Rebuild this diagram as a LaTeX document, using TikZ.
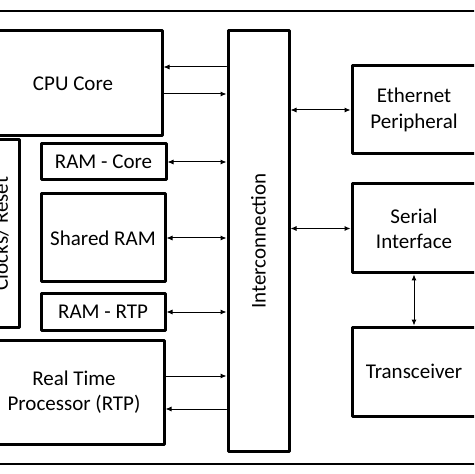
\documentclass[tikz,border=0pt]{standalone}
\usepackage{fontspec}
\setmainfont{Carlito}
\usetikzlibrary{arrows.meta}

\begin{document}
\begin{tikzpicture}[line cap=round,line join=round,x=0.5pt,y=-0.5pt,
  blk/.style={draw,line width=1.5pt,inner sep=0pt,align=center,
    font=\fontsize{10.5}{12.6}\selectfont},
  arr/.style={line width=0.5pt,>={Latex[length=3pt,width=2.6pt]}}]
\useasboundingbox (0,0) rectangle (474,474);
\clip (0,0) rectangle (474,474);
% outer frame
\draw [line width=1pt] (-20,11) rectangle (494,464);
% left side blocks
\node[blk,minimum width=89pt,minimum height=52.5pt] (cpu) at (73,83.5) {CPU Core};
\node[blk,minimum width=18pt,minimum height=93.5pt] (clk) at (1,233.5) {};
\node[font=\fontsize{10.5}{12.6}\selectfont,rotate=90] at (clk) {Clocks/ Reset};
\node[blk,minimum width=62.5pt,minimum height=18pt] (ramcore) at (103.5,162) {RAM - Core};
\node[blk,minimum width=62pt,minimum height=44pt] (shram) at (103,238) {Shared RAM};
\node[blk,minimum width=62pt,minimum height=18pt] (ramrtp) at (103,312) {RAM - RTP};
\node[blk,minimum width=90pt,minimum height=52pt] (rtp) at (74,392) {Real Time\\Processor (RTP)};
% interconnection
\node[blk,minimum width=30.5pt,minimum height=210pt] (ic) at (258.5,241) {};
\node[font=\fontsize{10.5}{12.6}\selectfont,rotate=90] at (ic) {Interconnection};
% right side blocks
\node[blk,minimum width=62pt,minimum height=44pt] (eth) at (414,110) {Ethernet\\Peripheral};
\node[blk,minimum width=62pt,minimum height=44.5pt] (serial) at (414,228.5) {Serial\\Interface};
\node[blk,minimum width=62pt,minimum height=44.5pt] (trans) at (414,371.5) {Transceiver};
% connectors
\coordinate (c1) at (0,67);
\coordinate (c2) at (0,94);
\coordinate (r1) at (0,376);
\coordinate (r2) at (0,409);
\draw[arr,<-] (cpu.east |- c1) -- (ic.west |- c1);
\draw[arr,->] (cpu.east |- c2) -- (ic.west |- c2);
\draw[arr,<->] (ramcore.east) -- (ramcore.east -| ic.west);
\draw[arr,<->] (shram.east) -- (shram.east -| ic.west);
\draw[arr,<->] (ramrtp.east) -- (ramrtp.east -| ic.west);
\draw[arr,->] (rtp.east |- r1) -- (ic.west |- r1);
\draw[arr,<-] (rtp.east |- r2) -- (ic.west |- r2);
\draw[arr,<->] (ic.east |- eth.west) -- (eth.west);
\draw[arr,<->] (ic.east |- serial.west) -- (serial.west);
\draw[arr,<->] (serial.south) -- (trans.north);
\end{tikzpicture}
\end{document}
